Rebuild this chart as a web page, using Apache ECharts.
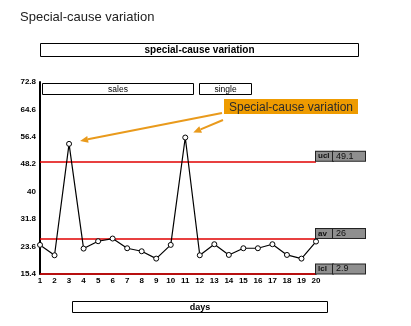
<!DOCTYPE html>
<html>
<head>
<meta charset="utf-8">
<script src="https://cdn.jsdelivr.net/npm/echarts@6/dist/echarts.min.js"></script>
<style>
  html, body { margin: 0; padding: 0; background: #fff; }
  #chart { width: 411px; height: 326px; }
</style>
</head>
<body>
<div id="chart"></div>
<script type="text/javascript">
// data
var days = ['1','2','3','4','5','6','7','8','9','10','11','12','13','14','15','16','17','18','19','20'];
var sales = [24.1, 21.0, 54.3, 23.0, 25.2, 26.0, 23.1, 22.2, 20.0, 24.1,
             56.2, 21.0, 24.3, 21.1, 23.1, 23.1, 24.3, 21.1, 20.0, 25.1];
var yTicks = ['15.4', '23.6', '31.8', '40', '48.2', '56.4', '64.6', '72.8'];
var ucl = 49.1, av = 26, lcl = 2.9;
var specialDays = ['3', '11'];

var yMin = 15.4, yMax = 72.8;
var FONT = '"Liberation Sans", Arial, sans-serif';

var myChart = echarts.init(document.getElementById('chart'));

function limitLabel(name, val) {
  return {
    show: true,
    position: 'end',
    distance: 0,
    offset: [0, -5],
    formatter: '{n|' + name + '}{v|' + val + '}',
    rich: {
      n: { width: 15, height: 9, align: 'left', padding: [0, 0, 0, 2], fontSize: 8, fontWeight: 'bold', fontFamily: FONT,
           color: '#111', backgroundColor: '#8f8f8f', borderColor: '#222', borderWidth: 1 },
      v: { width: 29, height: 9, align: 'left', padding: [0, 0, 0, 3], fontSize: 9, fontFamily: FONT,
           color: '#111', backgroundColor: '#8f8f8f', borderColor: '#222', borderWidth: 1 }
    }
  };
}

function box(x, y, w, h, label, fs, weight) {
  return {
    type: 'group', x: x, y: y,
    children: [
      { type: 'rect', shape: { x: 0.5, y: 0.5, width: w, height: h },
        style: { fill: '#fff', stroke: '#000', lineWidth: 1 } },
      { type: 'text', x: w / 2 + 0.5, y: h / 2 + 1,
        style: { text: label, fill: '#000', font: weight + ' ' + fs + 'px ' + FONT,
                 align: 'center', verticalAlign: 'middle' } }
    ]
  };
}

var option = {
  animation: false,
  backgroundColor: '#fff',
  grid: { left: 40, right: 95, top: 82, bottom: 52 },
  xAxis: {
    type: 'category',
    data: days,
    boundaryGap: false,
    axisLine: { lineStyle: { color: '#000', width: 1.5 } },
    axisTick: { show: false },
    axisLabel: { margin: 3, fontSize: 8, fontWeight: 'bold', color: '#000', fontFamily: FONT },
    splitLine: { show: false }
  },
  yAxis: [{
    type: 'value',
    min: yMin, max: yMax,
    axisLine: { show: true, lineStyle: { color: '#000', width: 2 } },
    axisTick: { show: false },
    axisLabel: { show: false },
    splitLine: { show: false }
  }, {
    // tick labels only, spread evenly over the same range
    type: 'category',
    data: yTicks,
    boundaryGap: false,
    position: 'left',
    axisLine: { show: false },
    axisTick: { show: false },
    axisLabel: { margin: 4, fontSize: 8, fontWeight: 'bold', color: '#000', fontFamily: FONT },
    splitLine: { show: false }
  }],
  series: [{
    type: 'line',
    data: sales,
    yAxisIndex: 0,
    symbol: 'circle',
    symbolSize: 5,
    lineStyle: { color: '#000', width: 1.2 },
    itemStyle: { color: '#fff', borderColor: '#000', borderWidth: 1 },
    z: 5,
    markLine: {
      silent: true,
      symbol: 'none',
      lineStyle: { color: '#e00000', width: 1.5, type: 'solid' },
      data: [
        { yAxis: ucl, label: limitLabel('ucl', ucl) },
        { yAxis: av, label: limitLabel('av', av) },
        { yAxis: Math.max(lcl, yMin), label: limitLabel('lcl', lcl) }
      ]
    }
  }],
  graphic: [
    { type: 'text', left: 20, top: 11,
      style: { text: 'Special-cause variation', fill: '#222', font: '13px ' + FONT } },
    box(40, 43, 318, 13, 'special-cause variation', 10, 'bold'),
    box(42, 83, 151, 11, 'sales', 8.5, 'normal'),
    box(199, 83, 52, 11, 'single', 8.5, 'normal'),
    box(72, 301, 255, 11, 'days', 9, 'bold')
  ]
};

myChart.setOption(option);

// annotation box and arrows pointing at the special-cause points
var annX = 224, annY = 99, annW = 134, annH = 15;
var arrowStarts = [[222, 113], [223, 120]];
var arrowOffsets = [[11, -3], [8, -5]];
var extra = [{
  type: 'group', x: annX, y: annY, z: 20,
  children: [
    { type: 'rect', shape: { x: 0, y: 0, width: annW, height: annH }, style: { fill: '#ee9b00' } },
    { type: 'text', x: annW / 2, y: annH / 2 + 1,
      style: { text: 'Special-cause variation', fill: '#2a2a2a', font: '12px ' + FONT,
               align: 'center', verticalAlign: 'middle' } }
  ]
}];
specialDays.forEach(function (d, i) {
  var p = myChart.convertToPixel({ seriesIndex: 0 }, [d, sales[days.indexOf(d)]]);
  var ex = p[0] + arrowOffsets[i][0], ey = p[1] + arrowOffsets[i][1];
  var sx = arrowStarts[i][0], sy = arrowStarts[i][1];
  var ang = Math.atan2(ey - sy, ex - sx);
  var hl = 8, hw = 3.5;
  var bx = ex - hl * Math.cos(ang), by = ey - hl * Math.sin(ang);
  extra.push({
    type: 'line', z: 19,
    shape: { x1: sx, y1: sy, x2: bx, y2: by },
    style: { stroke: '#e99a1c', lineWidth: 2 }
  });
  extra.push({
    type: 'polygon', z: 19,
    shape: { points: [
      [ex, ey],
      [bx + hw * Math.sin(ang), by - hw * Math.cos(ang)],
      [bx - hw * Math.sin(ang), by + hw * Math.cos(ang)]
    ] },
    style: { fill: '#e99a1c' }
  });
});
myChart.setOption({ graphic: option.graphic.concat(extra) });
</script>
</body>
</html>
